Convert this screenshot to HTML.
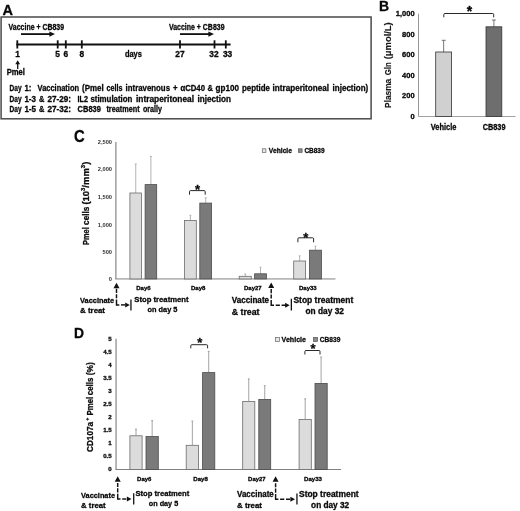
<!DOCTYPE html>
<html><head><meta charset="utf-8"><title>Figure</title>
<style>
html,body{margin:0;padding:0;background:#fff;}
svg{display:block;}
text{font-family:"Liberation Sans","DejaVu Sans",sans-serif;stroke:#080808;stroke-width:0.3px;stroke-linejoin:round;}
</style></head><body>
<svg width="520" height="511" viewBox="0 0 520 511">
<rect x="0" y="0" width="520" height="511" fill="#fff"/>
<text x="2.5" y="14.6" font-size="14.5" font-weight="bold" text-anchor="start" fill="#080808">A</text>
<rect x="1.10" y="17.00" width="370.00" height="101.80" fill="#fff" stroke="#4a4a4a" stroke-width="1.5"/>
<text x="8.6" y="30.3" font-size="8.6" font-weight="bold" text-anchor="start" fill="#080808" textLength="55.5" lengthAdjust="spacingAndGlyphs">Vaccine + CB839</text>
<text x="169" y="30.3" font-size="8.6" font-weight="bold" text-anchor="start" fill="#080808" textLength="55.5" lengthAdjust="spacingAndGlyphs">Vaccine + CB839</text>
<line x1="21" y1="34.1" x2="51" y2="34.1" stroke="#111" stroke-width="1.8"/>
<polygon points="55,34.1 49.4,31.400000000000002 49.4,36.800000000000004" fill="#111"/>
<line x1="180" y1="34.1" x2="210" y2="34.1" stroke="#111" stroke-width="1.8"/>
<polygon points="214,34.1 208.4,31.400000000000002 208.4,36.800000000000004" fill="#111"/>
<line x1="16.4" y1="44.6" x2="230.6" y2="44.6" stroke="#111" stroke-width="2.0"/>
<line x1="17.3" y1="40.3" x2="17.3" y2="48.5" stroke="#111" stroke-width="1.8"/>
<line x1="57.7" y1="40.3" x2="57.7" y2="48.5" stroke="#111" stroke-width="1.8"/>
<line x1="65.8" y1="40.3" x2="65.8" y2="48.5" stroke="#111" stroke-width="1.8"/>
<line x1="81.8" y1="40.3" x2="81.8" y2="48.5" stroke="#111" stroke-width="1.8"/>
<line x1="180" y1="40.3" x2="180" y2="48.5" stroke="#111" stroke-width="1.8"/>
<line x1="214.5" y1="40.3" x2="214.5" y2="48.5" stroke="#111" stroke-width="1.8"/>
<line x1="225.8" y1="40.3" x2="225.8" y2="48.5" stroke="#111" stroke-width="1.8"/>
<text x="17.7" y="56.7" font-size="8.4" font-weight="bold" text-anchor="middle" fill="#080808">1</text>
<text x="57.7" y="56.7" font-size="8.4" font-weight="bold" text-anchor="middle" fill="#080808">5</text>
<text x="65.8" y="56.7" font-size="8.4" font-weight="bold" text-anchor="middle" fill="#080808">6</text>
<text x="81.8" y="56.7" font-size="8.4" font-weight="bold" text-anchor="middle" fill="#080808">8</text>
<text x="180" y="56.7" font-size="8.4" font-weight="bold" text-anchor="middle" fill="#080808">27</text>
<text x="214" y="56.7" font-size="8.4" font-weight="bold" text-anchor="middle" fill="#080808">32</text>
<text x="227.6" y="56.7" font-size="8.4" font-weight="bold" text-anchor="middle" fill="#080808">33</text>
<text x="124.9" y="56.6" font-size="8.4" font-weight="bold" text-anchor="start" fill="#080808" textLength="17" lengthAdjust="spacingAndGlyphs">days</text>
<line x1="17.7" y1="62" x2="17.7" y2="69" stroke="#111" stroke-width="1.3"/>
<polygon points="17.7,60.2 15.3,64.2 20.1,64.2" fill="#111"/>
<text x="6.7" y="75.1" font-size="8.4" font-weight="bold" text-anchor="start" fill="#080808" textLength="18.3" lengthAdjust="spacingAndGlyphs">Pmel</text>
<text x="9.6" y="91.2" font-size="8.6" font-weight="bold" text-anchor="start" fill="#080808" textLength="12.0" lengthAdjust="spacingAndGlyphs">Day</text>
<text x="24.4" y="91.2" font-size="8.6" font-weight="bold" text-anchor="start" fill="#080808" textLength="7.0" lengthAdjust="spacingAndGlyphs">1:</text>
<text x="37.6" y="91.2" font-size="8.6" font-weight="bold" text-anchor="start" fill="#080808" textLength="41.4" lengthAdjust="spacingAndGlyphs">Vaccination</text>
<text x="82" y="91.2" font-size="8.6" font-weight="bold" text-anchor="start" fill="#080808" textLength="21.6" lengthAdjust="spacingAndGlyphs">(Pmel</text>
<text x="106.4" y="91.2" font-size="8.6" font-weight="bold" text-anchor="start" fill="#080808" textLength="16.0" lengthAdjust="spacingAndGlyphs">cells</text>
<text x="125.6" y="91.2" font-size="8.6" font-weight="bold" text-anchor="start" fill="#080808" textLength="44.4" lengthAdjust="spacingAndGlyphs">intravenous</text>
<text x="173" y="91.2" font-size="8.6" font-weight="bold" text-anchor="start" fill="#080808" textLength="4.6" lengthAdjust="spacingAndGlyphs">+</text>
<text x="180.4" y="91.2" font-size="8.6" font-weight="bold" text-anchor="start" fill="#080808" textLength="24.6" lengthAdjust="spacingAndGlyphs">αCD40</text>
<text x="207.6" y="91.2" font-size="8.6" font-weight="bold" text-anchor="start" fill="#080808" textLength="5.4" lengthAdjust="spacingAndGlyphs">&amp;</text>
<text x="215.6" y="91.2" font-size="8.6" font-weight="bold" text-anchor="start" fill="#080808" textLength="23.4" lengthAdjust="spacingAndGlyphs">gp100</text>
<text x="242" y="91.2" font-size="8.6" font-weight="bold" text-anchor="start" fill="#080808" textLength="28" lengthAdjust="spacingAndGlyphs">peptide</text>
<text x="272.6" y="91.2" font-size="8.6" font-weight="bold" text-anchor="start" fill="#080808" textLength="56.4" lengthAdjust="spacingAndGlyphs">intraperitoneal</text>
<text x="332.6" y="91.2" font-size="8.6" font-weight="bold" text-anchor="start" fill="#080808" textLength="35.6" lengthAdjust="spacingAndGlyphs">injection)</text>
<text x="9.6" y="101.5" font-size="8.6" font-weight="bold" text-anchor="start" fill="#080808" textLength="12.0" lengthAdjust="spacingAndGlyphs">Day</text>
<text x="24.4" y="101.5" font-size="8.6" font-weight="bold" text-anchor="start" fill="#080808" textLength="11.6" lengthAdjust="spacingAndGlyphs">1-3</text>
<text x="39" y="101.5" font-size="8.6" font-weight="bold" text-anchor="start" fill="#080808" textLength="5.4" lengthAdjust="spacingAndGlyphs">&amp;</text>
<text x="47.4" y="101.5" font-size="8.6" font-weight="bold" text-anchor="start" fill="#080808" textLength="23.6" lengthAdjust="spacingAndGlyphs">27-29:</text>
<text x="77.6" y="101.5" font-size="8.6" font-weight="bold" text-anchor="start" fill="#080808" textLength="10.4" lengthAdjust="spacingAndGlyphs">IL2</text>
<text x="90.4" y="101.5" font-size="8.6" font-weight="bold" text-anchor="start" fill="#080808" textLength="42.0" lengthAdjust="spacingAndGlyphs">stimulation</text>
<text x="136" y="101.5" font-size="8.6" font-weight="bold" text-anchor="start" fill="#080808" textLength="58" lengthAdjust="spacingAndGlyphs">intraperitoneal</text>
<text x="197.6" y="101.5" font-size="8.6" font-weight="bold" text-anchor="start" fill="#080808" textLength="33.4" lengthAdjust="spacingAndGlyphs">injection</text>
<text x="9.6" y="111.8" font-size="8.6" font-weight="bold" text-anchor="start" fill="#080808" textLength="12.0" lengthAdjust="spacingAndGlyphs">Day</text>
<text x="24.4" y="111.8" font-size="8.6" font-weight="bold" text-anchor="start" fill="#080808" textLength="11.6" lengthAdjust="spacingAndGlyphs">1-5</text>
<text x="39" y="111.8" font-size="8.6" font-weight="bold" text-anchor="start" fill="#080808" textLength="5.4" lengthAdjust="spacingAndGlyphs">&amp;</text>
<text x="47.4" y="111.8" font-size="8.6" font-weight="bold" text-anchor="start" fill="#080808" textLength="23.6" lengthAdjust="spacingAndGlyphs">27-32:</text>
<text x="77.6" y="111.8" font-size="8.6" font-weight="bold" text-anchor="start" fill="#080808" textLength="23.4" lengthAdjust="spacingAndGlyphs">CB839</text>
<text x="106.4" y="111.8" font-size="8.6" font-weight="bold" text-anchor="start" fill="#080808" textLength="33.2" lengthAdjust="spacingAndGlyphs">treatment</text>
<text x="143" y="111.8" font-size="8.6" font-weight="bold" text-anchor="start" fill="#080808" textLength="19" lengthAdjust="spacingAndGlyphs">orally</text>
<text x="378.9" y="11.1" font-size="14" font-weight="bold" text-anchor="start" fill="#080808">B</text>
<text x="414.6" y="118.7" font-size="7.5" font-weight="bold" text-anchor="end" fill="#080808">0</text>
<text x="414.6" y="98.2" font-size="7.5" font-weight="bold" text-anchor="end" fill="#080808">200</text>
<text x="414.6" y="77.7" font-size="7.5" font-weight="bold" text-anchor="end" fill="#080808">400</text>
<text x="414.6" y="57.20000000000001" font-size="7.5" font-weight="bold" text-anchor="end" fill="#080808">600</text>
<text x="414.6" y="36.7" font-size="7.5" font-weight="bold" text-anchor="end" fill="#080808">800</text>
<text x="414.6" y="16.2" font-size="7.5" font-weight="bold" text-anchor="end" fill="#080808">1,000</text>
<line x1="418.5" y1="13.7" x2="418.5" y2="116.5" stroke="#8a8a8a" stroke-width="0.9"/>
<line x1="418.5" y1="116.5" x2="515.5" y2="116.5" stroke="#8a8a8a" stroke-width="0.8"/>
<text transform="translate(390.8,107.9) rotate(-90)" font-size="9.6" font-weight="bold" fill="#1a1a1a" style="stroke-width:0.15px" textLength="29.1" lengthAdjust="spacingAndGlyphs">Plasma</text>
<text transform="translate(390.8,75.3) rotate(-90)" font-size="9.6" font-weight="bold" fill="#1a1a1a" style="stroke-width:0.15px" textLength="13" lengthAdjust="spacingAndGlyphs">Gln</text>
<text transform="translate(390.8,59.3) rotate(-90)" font-size="9.6" font-weight="bold" fill="#1a1a1a" style="stroke-width:0.15px" textLength="37" lengthAdjust="spacingAndGlyphs">(μmol/L)</text>
<line x1="443.65" y1="40.30" x2="443.65" y2="52.00" stroke="#555" stroke-width="0.8"/>
<line x1="441.65" y1="40.30" x2="445.65" y2="40.30" stroke="#555" stroke-width="0.8"/>
<rect x="435.70" y="52.00" width="15.90" height="64.50" fill="#d0d0d0" stroke="#333" stroke-width="0.8"/>
<line x1="493.90" y1="20.00" x2="493.90" y2="26.80" stroke="#555" stroke-width="0.8"/>
<line x1="491.90" y1="20.00" x2="495.90" y2="20.00" stroke="#555" stroke-width="0.8"/>
<rect x="486.00" y="26.80" width="15.80" height="89.70" fill="#6e6e6e" stroke="#333" stroke-width="0.8"/>
<path d="M443.79999999999995,17.3 V14.5 Q443.79999999999995,13.5 444.79999999999995,13.5 H492.70000000000005 Q493.70000000000005,13.5 493.70000000000005,14.5 V17.3" fill="none" stroke="#111" stroke-width="0.9"/>
<text x="469.6" y="15.700000000000001" font-size="14" font-weight="bold" text-anchor="middle" fill="#080808">*</text>
<text x="430.8" y="130.1" font-size="8.2" font-weight="bold" text-anchor="start" fill="#080808" textLength="25.6" lengthAdjust="spacingAndGlyphs">Vehicle</text>
<text x="482.7" y="130.1" font-size="8.2" font-weight="bold" text-anchor="start" fill="#080808" textLength="22.8" lengthAdjust="spacingAndGlyphs">CB839</text>
<text x="73.9" y="141.6" font-size="15.6" font-weight="bold" text-anchor="start" fill="#080808" textLength="10.7" lengthAdjust="spacingAndGlyphs">C</text>
<text x="112" y="280.95" font-size="5.7" font-weight="bold" text-anchor="end" fill="#333" style="stroke:none">0</text>
<text x="112" y="253.62" font-size="5.7" font-weight="bold" text-anchor="end" fill="#333" style="stroke:none">500</text>
<text x="112" y="227.19" font-size="5.7" font-weight="bold" text-anchor="end" fill="#333" style="stroke:none">1,000</text>
<text x="112" y="198.95999999999998" font-size="5.7" font-weight="bold" text-anchor="end" fill="#333" style="stroke:none">1,500</text>
<text x="112" y="170.82999999999998" font-size="5.7" font-weight="bold" text-anchor="end" fill="#333" style="stroke:none">2,000</text>
<text x="112" y="144.3" font-size="5.7" font-weight="bold" text-anchor="end" fill="#333" style="stroke:none">2,500</text>
<line x1="115.9" y1="142" x2="115.9" y2="278.95" stroke="#888" stroke-width="1.2"/>
<line x1="115.30000000000001" y1="278.95" x2="335.4" y2="278.95" stroke="#808080" stroke-width="1.0"/>
<text transform="translate(88.5,244.9) rotate(-90)" font-size="9.2" font-weight="bold" fill="#111" textLength="17.6" lengthAdjust="spacingAndGlyphs">Pmel</text>
<text transform="translate(88.5,224.9) rotate(-90)" font-size="9.2" font-weight="bold" fill="#111" textLength="18.2" lengthAdjust="spacingAndGlyphs">cells</text>
<text transform="translate(88.5,204.6) rotate(-90)" font-size="9.2" font-weight="bold" fill="#111" textLength="42.9" lengthAdjust="spacingAndGlyphs">(10<tspan font-size="5.8" dy="-3.6">3</tspan><tspan dy="3.6">/mm</tspan><tspan font-size="5.8" dy="-3.6">3</tspan><tspan dy="3.6">)</tspan></text>
<line x1="135.75" y1="164.00" x2="135.75" y2="193.00" stroke="#a0a0a0" stroke-width="0.8"/>
<line x1="134.85" y1="164.00" x2="136.65" y2="164.00" stroke="#a0a0a0" stroke-width="0.8"/>
<rect x="129.90" y="193.00" width="11.70" height="85.95" fill="#dcdcdc" stroke="#6c6c6c" stroke-width="0.8"/>
<line x1="150.90" y1="156.40" x2="150.90" y2="184.60" stroke="#a0a0a0" stroke-width="0.8"/>
<line x1="150.00" y1="156.40" x2="151.80" y2="156.40" stroke="#a0a0a0" stroke-width="0.8"/>
<rect x="145.10" y="184.60" width="11.60" height="94.35" fill="#7a7a7a" stroke="#4c4c4c" stroke-width="0.8"/>
<line x1="190.40" y1="215.30" x2="190.40" y2="220.50" stroke="#a0a0a0" stroke-width="0.8"/>
<line x1="189.50" y1="215.30" x2="191.30" y2="215.30" stroke="#a0a0a0" stroke-width="0.8"/>
<rect x="184.50" y="220.50" width="11.80" height="58.45" fill="#dcdcdc" stroke="#6c6c6c" stroke-width="0.8"/>
<line x1="205.70" y1="197.70" x2="205.70" y2="203.10" stroke="#a0a0a0" stroke-width="0.8"/>
<line x1="204.80" y1="197.70" x2="206.60" y2="197.70" stroke="#a0a0a0" stroke-width="0.8"/>
<rect x="199.80" y="203.10" width="11.80" height="75.85" fill="#7a7a7a" stroke="#4c4c4c" stroke-width="0.8"/>
<line x1="245.25" y1="274.00" x2="245.25" y2="276.30" stroke="#a0a0a0" stroke-width="0.8"/>
<line x1="244.35" y1="274.00" x2="246.15" y2="274.00" stroke="#a0a0a0" stroke-width="0.8"/>
<rect x="239.20" y="276.30" width="12.10" height="2.65" fill="#dcdcdc" stroke="#6c6c6c" stroke-width="0.8"/>
<line x1="260.50" y1="267.30" x2="260.50" y2="273.80" stroke="#a0a0a0" stroke-width="0.8"/>
<line x1="259.60" y1="267.30" x2="261.40" y2="267.30" stroke="#a0a0a0" stroke-width="0.8"/>
<rect x="254.60" y="273.80" width="11.80" height="5.15" fill="#7a7a7a" stroke="#4c4c4c" stroke-width="0.8"/>
<line x1="299.65" y1="255.80" x2="299.65" y2="261.00" stroke="#a0a0a0" stroke-width="0.8"/>
<line x1="298.75" y1="255.80" x2="300.55" y2="255.80" stroke="#a0a0a0" stroke-width="0.8"/>
<rect x="293.70" y="261.00" width="11.90" height="17.95" fill="#dcdcdc" stroke="#6c6c6c" stroke-width="0.8"/>
<line x1="315.45" y1="246.20" x2="315.45" y2="250.20" stroke="#a0a0a0" stroke-width="0.8"/>
<line x1="314.55" y1="246.20" x2="316.35" y2="246.20" stroke="#a0a0a0" stroke-width="0.8"/>
<rect x="309.50" y="250.20" width="11.90" height="28.75" fill="#7a7a7a" stroke="#4c4c4c" stroke-width="0.8"/>
<path d="M189.5,194.7 V191.6 Q189.5,190.6 190.5,190.6 H204.2 Q205.2,190.6 205.2,191.6 V194.7" fill="none" stroke="#111" stroke-width="0.9"/>
<text x="197.5" y="194.20000000000002" font-size="13" font-weight="bold" text-anchor="middle" fill="#080808">*</text>
<path d="M297.9,242.3 V238.8 Q297.9,237.8 298.9,237.8 H312.6 Q313.6,237.8 313.6,238.8 V242.3" fill="none" stroke="#111" stroke-width="0.9"/>
<text x="305.8" y="241.5" font-size="13" font-weight="bold" text-anchor="middle" fill="#080808">*</text>
<text x="136.2" y="290.1" font-size="6" font-weight="bold" text-anchor="start" fill="#080808" textLength="14.4" lengthAdjust="spacingAndGlyphs">Day6</text>
<text x="191" y="290.1" font-size="6" font-weight="bold" text-anchor="start" fill="#080808" textLength="14.4" lengthAdjust="spacingAndGlyphs">Day8</text>
<text x="244" y="290.1" font-size="6" font-weight="bold" text-anchor="start" fill="#080808" textLength="17.7" lengthAdjust="spacingAndGlyphs">Day27</text>
<text x="299" y="290.1" font-size="6" font-weight="bold" text-anchor="start" fill="#080808" textLength="17.7" lengthAdjust="spacingAndGlyphs">Day33</text>
<rect x="262.30" y="148.80" width="3.60" height="3.60" fill="#e6e6e6" stroke="#666" stroke-width="0.7"/>
<text x="268.8" y="153" font-size="7.6" font-weight="bold" text-anchor="start" fill="#080808" textLength="23.2" lengthAdjust="spacingAndGlyphs">Vehicle</text>
<rect x="298.50" y="148.80" width="3.60" height="3.60" fill="#8a8a8a" stroke="#555" stroke-width="0.7"/>
<text x="304.4" y="153" font-size="7.6" font-weight="bold" text-anchor="start" fill="#080808" textLength="20.2" lengthAdjust="spacingAndGlyphs">CB839</text>
<polygon points="116.5,282.80 113.50,288.30 119.50,288.30" fill="#111"/>
<path d="M116.5,299.59999999999997 V304.9 H119.3" fill="none" stroke="#111" stroke-width="1.45"/>
<path d="M116.5,298.30 V288.40" fill="none" stroke="#111" stroke-width="1.45" stroke-dasharray="4.1 1.3"/>
<path d="M121.00,304.9 H126.00" fill="none" stroke="#111" stroke-width="1.45" stroke-dasharray="4.2 1.7"/>
<polygon points="129.8,304.9 125.20000000000002,302.4 125.20000000000002,307.4" fill="#111"/>
<line x1="130.95" y1="299.4" x2="130.95" y2="310.6" stroke="#111" stroke-width="1.3"/>
<text x="80.1" y="302.5" font-size="8.0" font-weight="bold" text-anchor="start" fill="#080808" textLength="34" lengthAdjust="spacingAndGlyphs">Vaccinate</text>
<text x="80.1" y="312.6" font-size="8.0" font-weight="bold" text-anchor="start" fill="#080808" textLength="24.9" lengthAdjust="spacingAndGlyphs">&amp; treat</text>
<text x="134.3" y="302.4" font-size="8.0" font-weight="bold" text-anchor="start" fill="#080808" textLength="54.3" lengthAdjust="spacingAndGlyphs">Stop treatment</text>
<text x="147.5" y="312.2" font-size="8.0" font-weight="bold" text-anchor="start" fill="#080808" textLength="29.9" lengthAdjust="spacingAndGlyphs">on day 5</text>
<polygon points="271.2,282.60 268.20,288.10 274.20,288.10" fill="#111"/>
<path d="M271.2,299.9 V305.2 H274.0" fill="none" stroke="#111" stroke-width="1.45"/>
<path d="M271.2,298.60 V288.20" fill="none" stroke="#111" stroke-width="1.45" stroke-dasharray="4.1 1.3"/>
<path d="M275.70,305.2 H285.90" fill="none" stroke="#111" stroke-width="1.45" stroke-dasharray="4.2 1.7"/>
<polygon points="289.7,305.2 285.09999999999997,302.7 285.09999999999997,307.7" fill="#111"/>
<line x1="291.35" y1="298.8" x2="291.35" y2="310.4" stroke="#111" stroke-width="1.3"/>
<text x="231.7" y="303.4" font-size="8.8" font-weight="bold" text-anchor="start" fill="#080808" textLength="37.4" lengthAdjust="spacingAndGlyphs">Vaccinate</text>
<text x="231.7" y="314.7" font-size="8.8" font-weight="bold" text-anchor="start" fill="#080808" textLength="27.8" lengthAdjust="spacingAndGlyphs">&amp; treat</text>
<text x="293.4" y="303.05" font-size="8.8" font-weight="bold" text-anchor="start" fill="#080808" textLength="59.9" lengthAdjust="spacingAndGlyphs">Stop treatment</text>
<text x="305.5" y="314.2" font-size="8.8" font-weight="bold" text-anchor="start" fill="#080808" textLength="38.4" lengthAdjust="spacingAndGlyphs">on day 32</text>
<text x="74.1" y="337.5" font-size="13.8" font-weight="bold" text-anchor="start" fill="#080808">D</text>
<text x="111.7" y="471.3" font-size="6.1" font-weight="bold" text-anchor="end" fill="#080808">0</text>
<text x="111.7" y="458.24" font-size="6.1" font-weight="bold" text-anchor="end" fill="#080808">0.5</text>
<text x="111.7" y="445.18" font-size="6.1" font-weight="bold" text-anchor="end" fill="#080808">1</text>
<text x="111.7" y="432.12" font-size="6.1" font-weight="bold" text-anchor="end" fill="#080808">1.5</text>
<text x="111.7" y="419.06" font-size="6.1" font-weight="bold" text-anchor="end" fill="#080808">2</text>
<text x="111.7" y="406.0" font-size="6.1" font-weight="bold" text-anchor="end" fill="#080808">2.5</text>
<text x="111.7" y="392.94" font-size="6.1" font-weight="bold" text-anchor="end" fill="#080808">3</text>
<text x="111.7" y="379.88" font-size="6.1" font-weight="bold" text-anchor="end" fill="#080808">3.5</text>
<text x="111.7" y="366.82" font-size="6.1" font-weight="bold" text-anchor="end" fill="#080808">4</text>
<text x="111.7" y="353.76" font-size="6.1" font-weight="bold" text-anchor="end" fill="#080808">4.5</text>
<text x="111.7" y="340.7" font-size="6.1" font-weight="bold" text-anchor="end" fill="#080808">5</text>
<line x1="116.05" y1="338.7" x2="116.05" y2="469.5" stroke="#888" stroke-width="1.2"/>
<line x1="115.45" y1="469.5" x2="341" y2="469.5" stroke="#808080" stroke-width="1.0"/>
<text transform="translate(92.8,451.9) rotate(-90)" font-size="8.9" font-weight="bold" fill="#111" textLength="29.9" lengthAdjust="spacingAndGlyphs">CD107a</text>
<text transform="translate(89.2,420.6) rotate(-90)" font-size="4.6" font-weight="bold" fill="#111" textLength="2.7" lengthAdjust="spacingAndGlyphs">+</text>
<text transform="translate(92.8,415.5) rotate(-90)" font-size="8.9" font-weight="bold" fill="#111" textLength="18.7" lengthAdjust="spacingAndGlyphs">Pmel</text>
<text transform="translate(92.8,395.2) rotate(-90)" font-size="8.9" font-weight="bold" fill="#111" textLength="17.6" lengthAdjust="spacingAndGlyphs">cells</text>
<text transform="translate(92.8,375.2) rotate(-90)" font-size="8.9" font-weight="bold" fill="#111" textLength="12.9" lengthAdjust="spacingAndGlyphs">(%)</text>
<line x1="136.00" y1="429.10" x2="136.00" y2="435.80" stroke="#8c8c8c" stroke-width="0.8"/>
<line x1="135.10" y1="429.10" x2="136.90" y2="429.10" stroke="#8c8c8c" stroke-width="0.8"/>
<rect x="129.90" y="435.80" width="12.20" height="33.70" fill="#dcdcdc" stroke="#6c6c6c" stroke-width="0.8"/>
<line x1="152.15" y1="420.60" x2="152.15" y2="436.50" stroke="#8c8c8c" stroke-width="0.8"/>
<line x1="151.25" y1="420.60" x2="153.05" y2="420.60" stroke="#8c8c8c" stroke-width="0.8"/>
<rect x="146.00" y="436.50" width="12.30" height="33.00" fill="#7a7a7a" stroke="#4c4c4c" stroke-width="0.8"/>
<line x1="192.35" y1="421.10" x2="192.35" y2="445.30" stroke="#8c8c8c" stroke-width="0.8"/>
<line x1="191.45" y1="421.10" x2="193.25" y2="421.10" stroke="#8c8c8c" stroke-width="0.8"/>
<rect x="186.20" y="445.30" width="12.30" height="24.20" fill="#dcdcdc" stroke="#6c6c6c" stroke-width="0.8"/>
<line x1="208.70" y1="351.40" x2="208.70" y2="372.60" stroke="#8c8c8c" stroke-width="0.8"/>
<line x1="207.80" y1="351.40" x2="209.60" y2="351.40" stroke="#8c8c8c" stroke-width="0.8"/>
<rect x="202.60" y="372.60" width="12.20" height="96.90" fill="#7a7a7a" stroke="#4c4c4c" stroke-width="0.8"/>
<line x1="248.75" y1="378.90" x2="248.75" y2="401.40" stroke="#8c8c8c" stroke-width="0.8"/>
<line x1="247.85" y1="378.90" x2="249.65" y2="378.90" stroke="#8c8c8c" stroke-width="0.8"/>
<rect x="242.70" y="401.40" width="12.10" height="68.10" fill="#dcdcdc" stroke="#6c6c6c" stroke-width="0.8"/>
<line x1="264.75" y1="385.70" x2="264.75" y2="399.40" stroke="#8c8c8c" stroke-width="0.8"/>
<line x1="263.85" y1="385.70" x2="265.65" y2="385.70" stroke="#8c8c8c" stroke-width="0.8"/>
<rect x="258.80" y="399.40" width="11.90" height="70.10" fill="#7a7a7a" stroke="#4c4c4c" stroke-width="0.8"/>
<line x1="305.20" y1="398.80" x2="305.20" y2="419.50" stroke="#8c8c8c" stroke-width="0.8"/>
<line x1="304.30" y1="398.80" x2="306.10" y2="398.80" stroke="#8c8c8c" stroke-width="0.8"/>
<rect x="299.10" y="419.50" width="12.20" height="50.00" fill="#dcdcdc" stroke="#6c6c6c" stroke-width="0.8"/>
<line x1="321.10" y1="357.00" x2="321.10" y2="383.40" stroke="#8c8c8c" stroke-width="0.8"/>
<line x1="320.20" y1="357.00" x2="322.00" y2="357.00" stroke="#8c8c8c" stroke-width="0.8"/>
<rect x="315.00" y="383.40" width="12.20" height="86.10" fill="#7a7a7a" stroke="#4c4c4c" stroke-width="0.8"/>
<path d="M190.8,348.3 V345.7 Q190.8,344.7 191.8,344.7 H206.6 Q207.6,344.7 207.6,345.7 V348.3" fill="none" stroke="#111" stroke-width="0.9"/>
<text x="199.8" y="347.4" font-size="13" font-weight="bold" text-anchor="middle" fill="#080808">*</text>
<path d="M304.9,354.5 V351.5 Q304.9,350.5 305.9,350.5 H319.0 Q320.0,350.5 320.0,351.5 V354.5" fill="none" stroke="#111" stroke-width="0.9"/>
<text x="313" y="353.4" font-size="13" font-weight="bold" text-anchor="middle" fill="#080808">*</text>
<text x="137.1" y="480.5" font-size="6" font-weight="bold" text-anchor="start" fill="#080808" textLength="14.3" lengthAdjust="spacingAndGlyphs">Day6</text>
<text x="193.3" y="480.5" font-size="6" font-weight="bold" text-anchor="start" fill="#080808" textLength="14.6" lengthAdjust="spacingAndGlyphs">Day8</text>
<text x="248.1" y="480.5" font-size="6" font-weight="bold" text-anchor="start" fill="#080808" textLength="17.5" lengthAdjust="spacingAndGlyphs">Day27</text>
<text x="304" y="480.5" font-size="6" font-weight="bold" text-anchor="start" fill="#080808" textLength="17.9" lengthAdjust="spacingAndGlyphs">Day33</text>
<rect x="275.40" y="337.50" width="4.00" height="4.00" fill="#e6e6e6" stroke="#666" stroke-width="0.7"/>
<text x="281.6" y="341.8" font-size="7.8" font-weight="bold" text-anchor="start" fill="#080808" textLength="24.4" lengthAdjust="spacingAndGlyphs">Vehicle</text>
<rect x="313.50" y="337.50" width="4.00" height="4.00" fill="#8a8a8a" stroke="#555" stroke-width="0.7"/>
<text x="319.8" y="341.8" font-size="7.8" font-weight="bold" text-anchor="start" fill="#080808" textLength="20.5" lengthAdjust="spacingAndGlyphs">CB839</text>
<polygon points="117.7,476.30 114.70,481.80 120.70,481.80" fill="#111"/>
<path d="M117.7,493.7 V499 H120.5" fill="none" stroke="#111" stroke-width="1.45"/>
<path d="M117.7,492.40 V481.90" fill="none" stroke="#111" stroke-width="1.45" stroke-dasharray="4.1 1.3"/>
<path d="M122.20,499 H127.70" fill="none" stroke="#111" stroke-width="1.45" stroke-dasharray="4.2 1.7"/>
<polygon points="131.5,499 126.9,496.5 126.9,501.5" fill="#111"/>
<line x1="133.7" y1="493.2" x2="133.7" y2="504.6" stroke="#111" stroke-width="1.3"/>
<text x="81.1" y="497.6" font-size="8.0" font-weight="bold" text-anchor="start" fill="#080808" textLength="33.9" lengthAdjust="spacingAndGlyphs">Vaccinate</text>
<text x="81.1" y="507.6" font-size="8.0" font-weight="bold" text-anchor="start" fill="#080808" textLength="24.5" lengthAdjust="spacingAndGlyphs">&amp; treat</text>
<text x="135.4" y="496.1" font-size="8.0" font-weight="bold" text-anchor="start" fill="#080808" textLength="53.8" lengthAdjust="spacingAndGlyphs">Stop treatment</text>
<text x="148.8" y="506.2" font-size="8.0" font-weight="bold" text-anchor="start" fill="#080808" textLength="29.4" lengthAdjust="spacingAndGlyphs">on day 5</text>
<polygon points="275.6,476.30 272.60,481.80 278.60,481.80" fill="#111"/>
<path d="M275.6,494.0 V499.3 H278.40000000000003" fill="none" stroke="#111" stroke-width="1.45"/>
<path d="M275.6,492.70 V481.90" fill="none" stroke="#111" stroke-width="1.45" stroke-dasharray="4.1 1.3"/>
<path d="M280.10,499.3 H291.20" fill="none" stroke="#111" stroke-width="1.45" stroke-dasharray="4.2 1.7"/>
<polygon points="295,499.3 290.4,496.8 290.4,501.8" fill="#111"/>
<line x1="296.95" y1="493.6" x2="296.95" y2="504.6" stroke="#111" stroke-width="1.3"/>
<text x="237.1" y="497.2" font-size="8.8" font-weight="bold" text-anchor="start" fill="#080808" textLength="36.6" lengthAdjust="spacingAndGlyphs">Vaccinate</text>
<text x="237.1" y="507.6" font-size="7.8" font-weight="bold" text-anchor="start" fill="#080808" textLength="24.8" lengthAdjust="spacingAndGlyphs">&amp; treat</text>
<text x="299" y="496.9" font-size="8.6" font-weight="bold" text-anchor="start" fill="#080808" textLength="59.6" lengthAdjust="spacingAndGlyphs">Stop treatment</text>
<text x="311.1" y="507.6" font-size="8.6" font-weight="bold" text-anchor="start" fill="#080808" textLength="38.1" lengthAdjust="spacingAndGlyphs">on day 32</text>
</svg>
</body></html>
